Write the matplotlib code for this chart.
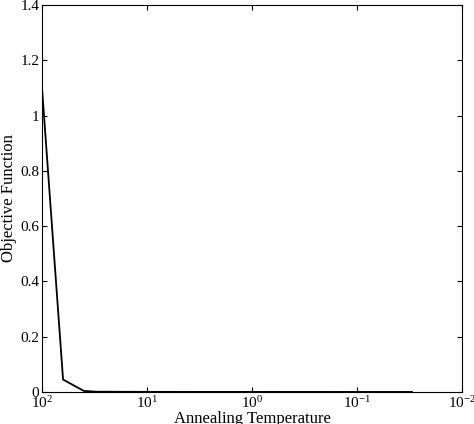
import matplotlib
matplotlib.use("Agg")
import matplotlib.pyplot as plt
from matplotlib.ticker import NullLocator

temps = [100, 63, 40, 30, 10, 1, 0.1, 0.03]
obj = [1.1, 0.045, 0.004, 0.001, 0.0005, 0.0003, 0.0002, 0.0002]

plt.rcParams['font.family'] = ['Liberation Serif']
fig = plt.figure(figsize=(4.74, 4.24), dpi=100)
ax = fig.add_axes([42/474, 32/424, 420/474, 387/424])
ax.plot(temps, obj, color='black', lw=1.3)
ax.set_xscale('log')
ax.set_xlim(100, 0.01)
ax.xaxis.set_minor_locator(NullLocator())
ax.set_ylim(0, 1.4)
ax.set_yticks([0, 0.2, 0.4, 0.6, 0.8, 1, 1.2, 1.4])
ax.set_yticklabels(['0', '0.2', '0.4', '0.6', '0.8', '1', '1.2', '1.4'])
ax.tick_params(labelsize=11, direction='in', which='both', top=True, right=True, pad=2)
ax.set_xlabel('Annealing Temperature', fontsize=12, labelpad=0)
ax.set_ylabel('Objective Function', fontsize=12, labelpad=2)
fig.savefig('out.png', dpi=100)
